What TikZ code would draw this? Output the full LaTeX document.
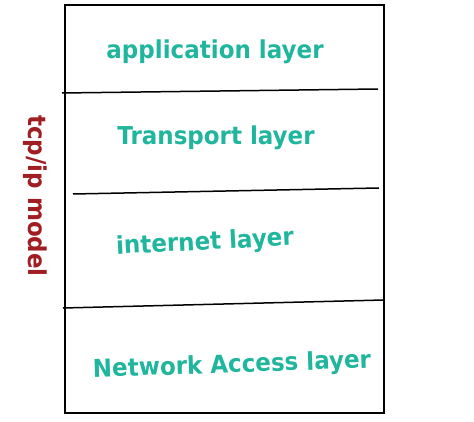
\documentclass[tikz,border=0pt]{standalone}
\usepackage{fontspec}
\setsansfont{DejaVu Sans}
\usetikzlibrary{positioning}
\definecolor{layerteal}{RGB}{32,182,158}
\definecolor{modelred}{RGB}{160,30,34}

\begin{document}
\begin{tikzpicture}[
    x=1pt, y=-1pt,
    layer/.style={font=\sffamily\bfseries\fontsize{23}{27}\selectfont,
                  text=layerteal, inner sep=0pt},
    tall/.style={yscale=1.07},
    divider/.style={line width=1.5pt},
  ]
  \useasboundingbox (0,0) rectangle (474,422);

  % outer frame of the stack
  \coordinate (frame nw) at (65,5);
  \coordinate (frame se) at (384,413);
  \draw[line width=2.2pt] (frame nw) rectangle (frame se);

  % hand drawn lines between the layers
  \foreach \n/\xa/\ya/\xb/\yb in {1/62/93/378/89, 2/73/194/379/188, 3/63/308/384/300} {
    \coordinate (d\n w) at (\xa,\ya);
    \coordinate (d\n e) at (\xb,\yb);
    \draw[divider] (d\n w) -- (d\n e);
  }

  \node[layer, tall] (app) at (215,52) {application layer};
  \node[layer, tall] (trans) at (216,138) {Transport layer};
  \node[layer, rotate=3, tall] (inet) at (205,243) {internet layer};
  \node[layer, rotate=2, tall] (netacc) at (232,366) {Network Access layer};

  \node[layer, text=modelred, rotate=-90, tall] (model) at (35,196) {tcp/ip model};
\end{tikzpicture}
\end{document}
